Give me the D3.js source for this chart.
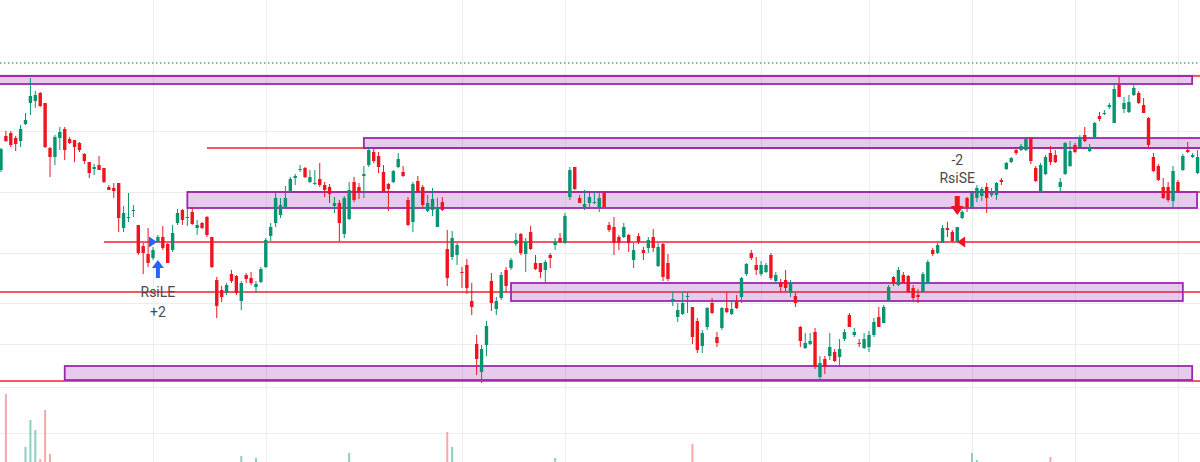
<!DOCTYPE html>
<html><head><meta charset="utf-8">
<script src="https://cdn.jsdelivr.net/npm/d3@7"></script>
<style>html,body{margin:0;padding:0;background:#fff;overflow:hidden}svg{display:block}</style>
</head><body><svg id="c" width="1200" height="462"></svg>
<script>
// ---- data ----
const opens=[330,364,367,362,359,376,397,399,407,397,352,343,362,371,361,360,357,346,338,331,335,332,313,312,317,272,282,289,275,254,246,242,258,263,256,250,277,290,282,288,272,277,283,263,220,210,207,226,224,199,225,222,213,218,233,264,277,285,293,308,322,330,332,318,316,321,315,313,294,297,266,281,318,313,324,335,348,344,328,316,318,333,328,300,278,319,313,289,290,273,298,251,243,245,228,235,199,156,128,155,219,191,202,230,232,256,266,246,268,237,237,230,245,255,262,257,303,333,302,292,297,297,292,307,275,273,263,263,265,240,264,250,252,263,234,256,237,199,183,186,203,193,179,154,173,197,163,172,192,186,198,203,226,247,235,226,228,245,219,218,220,207,204,173,152,156,168,123,141,144,148,143,161,185,165,157,152,153,165,183,177,200,223,215,225,224,212,205,208,217,250,247,257,272,268,259,282,302,293,302,304,313,305,305,320,331,338,350,350,350,362,332,308,326,347,345,313,326,334,355,353,365,349,362,384,386,393,377,415,391,388,405,407,395,382,343,334,313,313,299,318,330,350,343,327];
const highs=[352,369,369,364,375,387,422,409,408,397,353,365,373,373,363,360,358,347,338,336,344,332,315,317,317,294,307,295,275,257,272,253,265,274,257,275,291,291,292,293,280,278,284,263,223,214,217,230,225,219,227,228,219,233,262,277,307,302,314,323,326,335,333,330,330,337,318,316,303,300,304,318,323,317,334,352,352,348,335,317,330,347,334,303,318,324,315,305,312,302,303,270,269,257,233,241,217,165,155,179,227,203,228,233,242,267,267,262,274,245,237,240,247,262,267,287,333,333,305,310,307,308,307,309,278,283,265,277,266,257,267,253,263,271,257,257,246,208,197,208,208,193,182,170,193,202,168,193,208,200,205,223,237,250,243,239,237,247,228,221,230,220,207,174,167,167,172,144,144,167,151,161,171,187,172,161,167,169,182,193,195,215,224,233,228,225,215,211,228,240,252,257,275,278,270,273,290,303,308,315,313,317,312,318,322,338,343,353,356,363,363,334,337,345,354,350,322,358,359,357,365,373,356,378,388,390,397,416,423,403,405,417,409,402,383,347,336,322,318,334,320,346,358,347,350];
const lows=[328,358,353,349,353,375,385,392,393,352,323,335,350,340,356,338,348,336,322,325,330,317,310,302,268,268,278,283,245,226,233,240,257,250,237,248,275,275,274,275,265,271,263,232,182,198,205,217,205,190,217,215,207,217,232,259,273,282,293,307,315,328,322,317,315,313,303,297,287,259,262,280,298,301,302,333,337,327,307,289,317,332,323,274,268,307,293,288,284,273,289,214,240,235,212,206,185,125,117,144,189,185,200,208,230,254,245,228,250,230,222,217,232,250,257,256,300,310,297,290,293,296,288,293,268,245,250,262,248,232,256,240,247,248,233,219,219,194,178,185,187,156,147,147,170,186,153,170,187,185,191,197,224,240,225,224,227,220,217,208,208,203,193,153,151,155,131,121,126,140,138,134,159,173,163,153,151,148,163,173,177,198,214,214,217,207,200,197,207,217,244,246,257,263,258,257,281,288,293,298,299,287,303,300,315,330,337,345,349,349,336,318,307,325,335,337,307,325,333,347,352,358,348,361,379,385,391,377,403,387,387,404,396,387,353,328,319,301,298,293,308,329,347,342,326];
const closes=[351,359,355,356,371,380,404,405,394,353,343,363,368,350,357,353,350,339,327,333,330,318,310,309,282,287,283,290,247,247,237,250,263,252,237,267,287,280,283,276,275,272,265,233,194,203,215,219,207,217,221,217,216,231,260,273,302,295,302,321,324,331,323,323,317,315,310,306,297,277,302,310,300,308,326,350,339,333,308,311,329,341,324,275,316,308,295,297,301,292,290,222,262,255,227,212,193,141,151,174,197,199,225,214,240,260,247,258,251,231,228,238,242,258,258,284,330,311,297,296,303,298,302,293,270,257,257,273,257,250,258,247,260,252,253,223,221,201,190,197,204,163,150,167,192,187,157,192,188,191,192,222,236,242,230,235,235,222,225,213,212,217,197,159,157,159,133,137,133,153,139,151,168,173,168,156,161,165,178,173,193,213,217,230,217,208,202,203,226,238,246,255,272,270,259,273,288,293,307,312,311,302,307,317,318,337,342,347,354,361,339,319,335,343,338,338,318,357,349,348,363,359,353,377,381,387,395,411,403,397,398,412,397,387,355,329,320,302,300,329,309,344,348,345,343];
const volumes=[
0,680,0,0,0,150,420,320,30,520,   80,0,0,0,0,0,0,0,0,0,   0,0,0,0,0,0,0,0,0,0,
0,0,0,0,0,0,0,0,0,0,   0,0,0,0,0,0,0,0,0,60,   0,0,40,0,0,0,0,0,0,0,
0,0,0,0,0,0,0,0,0,0,   0,90,0,0,0,0,0,0,0,0,   0,0,0,0,0,0,0,0,0,0,
0,300,150,0,0,0,0,0,0,0,   0,0,0,0,0,0,0,0,0,0,   0,0,0,40,0,0,0,0,0,0,
0,0,0,0,0,0,0,0,0,0,   0,0,0,0,0,0,0,0,0,0,   0,180,0,0,0,0,0,0,0,0,
0,0,0,0,0,0,0,0,0,0,   0,0,0,0,0,0,0,0,0,0,   0,0,0,0,0,0,0,0,0,0,
0,0,0,0,0,0,0,0,0,0,   0,0,0,0,0,0,0,0,90,20,   0,0,0,0,0,0,0,0,0,0,
0,0,0,0,50,0,0,0,0,0,   0,0,0,0,0,0,0,0,0,0,   0,0,0,0,0,0,0,0,0,0,
0,0,0,0,0];
const priceGrid=[426,369,308,247,197,156,113,67];
const timeGrid=[31,54,94,115,155,177,198,219,240];
const dottedLevel=437;
// supply / demand zones
const zoneFrom=[-5,74,38,104,13];
const zoneTo=[242.9,260,243.9,241,242.9];
const zoneHigh=[424,362,308,217,134];
const zoneLow=[416,352,292,199,120];
// red horizontal levels
const levelPrice=[424,352,308,258,208,119];
const levelFrom=[-5,42,38,21,-5,-5];
// signals
const longIdx=32, longLevel=258, longLabel=["RsiLE","+2"];
const shortIdx=195, shortLevel=258, shortLabel=["-2","RsiSE"];

// ---- drawing ----
const W=1200,H=462;
const svg=d3.select("#c");
const x=d3.scaleLinear().domain([0,244]).range([0.98,0.98+244*4.904]);
const y=d3.scaleLinear().domain([100,440]).range([400,60]);
const yv=d3.scaleLinear().domain([0,800]).range([462,382]);
const up="#089470", dn="#f0141e";

const g=svg.append("g");
// grid
g.selectAll(".hg").data(priceGrid).join("line")
  .attr("x1",0).attr("x2",W).attr("y1",d=>Math.round(y(d))+0.5).attr("y2",d=>Math.round(y(d))+0.5)
  .attr("stroke","#ededed").attr("stroke-width",1);
g.selectAll(".vg").data(timeGrid).join("line")
  .attr("y1",0).attr("y2",H).attr("x1",d=>Math.round(x(d))+0.5).attr("x2",d=>Math.round(x(d))+0.5)
  .attr("stroke","#ededed").attr("stroke-width",1);
// dotted line
g.append("line").attr("x1",0).attr("x2",W).attr("y1",y(dottedLevel)).attr("y2",y(dottedLevel))
  .attr("stroke","#3fa88e").attr("stroke-width",1.4).attr("stroke-dasharray","1.4,2.6");

// volume
g.selectAll(".vol").data(volumes.map((v,i)=>({v,i})).filter(d=>d.v>0)).join("rect")
  .attr("x",d=>x(d.i)-1).attr("width",2)
  .attr("y",d=>yv(d.v)).attr("height",d=>yv(0)-yv(d.v))
  .attr("fill",d=>closes[d.i]>=opens[d.i]?"#8ccfc2":"#f8a7ab");

// red levels (under zones)
g.selectAll(".lvl").data(levelPrice.map((p,i)=>({p,f:levelFrom[i]}))).join("line")
  .attr("x1",d=>x(d.f)).attr("x2",W+5).attr("y1",d=>y(d.p)).attr("y2",d=>y(d.p))
  .attr("stroke","#f2202c").attr("stroke-width",1.3);

// zones
g.selectAll(".zone").data(zoneHigh.map((h,i)=>({h,l:zoneLow[i],f:zoneFrom[i],t:zoneTo[i]}))).join("rect")
  .attr("x",d=>x(d.f)).attr("width",d=>x(d.t)-x(d.f))
  .attr("y",d=>y(d.h)).attr("height",d=>y(d.l)-y(d.h))
  .attr("fill","rgba(156,39,176,0.24)").attr("stroke","#9c27b0").attr("stroke-width",1.8);

// candles
const candles=opens.map((o,i)=>({i,o,h:highs[i],l:lows[i],c:closes[i]}));
const cg=g.selectAll(".cd").data(candles).join("g");
cg.append("line").attr("x1",d=>x(d.i)).attr("x2",d=>x(d.i))
  .attr("y1",d=>y(d.h)).attr("y2",d=>y(d.l))
  .attr("stroke",d=>d.c>=d.o?up:dn).attr("stroke-width",1);
cg.append("rect").attr("x",d=>x(d.i)-1.7).attr("width",3.4)
  .attr("y",d=>y(Math.max(d.o,d.c))).attr("height",d=>Math.max(1,Math.abs(y(d.o)-y(d.c))))
  .attr("fill",d=>d.c>=d.o?up:dn);

// long signal
const blue="#2962ff";
const bx=x(longIdx), by=y(lows[longIdx])+17;
g.append("path").attr("fill",blue)
  .attr("d",`M${bx},${by} L${bx+6},${by+8} L${bx+2},${by+8} L${bx+2},${by+18} L${bx-2},${by+18} L${bx-2},${by+8} L${bx-6},${by+8} Z`);
const tx=x(longIdx-1)+4, ty=y(longLevel);
g.append("path").attr("fill",blue).attr("d",`M${tx},${ty} L${tx-8},${ty-5.5} L${tx-8},${ty+5.5} Z`);
g.append("text").attr("x",bx).attr("y",by+37).attr("text-anchor","middle")
  .attr("font-family","Roboto, 'Liberation Sans', sans-serif").attr("font-size",14).attr("fill","#4a4a4a").text(longLabel[0]);
g.append("text").attr("x",bx).attr("y",by+57).attr("text-anchor","middle")
  .attr("font-family","Roboto, 'Liberation Sans', sans-serif").attr("font-size",14).attr("fill","#4a4a4a").text(longLabel[1]);

// short signal
const rx=x(shortIdx), ry=y(highs[shortIdx])-12;
g.append("path").attr("fill","#f0141e")
  .attr("d",`M${rx},${ry} L${rx-6.5},${ry-9} L${rx-2.5},${ry-9} L${rx-2.5},${ry-19} L${rx+2.5},${ry-19} L${rx+2.5},${ry-9} L${rx+6.5},${ry-9} Z`);
const sx=x(shortIdx+1)-5, sy=y(shortLevel);
g.append("path").attr("fill","#f0141e").attr("d",`M${sx},${sy} L${sx+8},${sy-5.5} L${sx+8},${sy+5.5} Z`);
g.append("text").attr("x",rx).attr("y",ry-50).attr("text-anchor","middle")
  .attr("font-family","Roboto, 'Liberation Sans', sans-serif").attr("font-size",14).attr("fill","#4a4a4a").text(shortLabel[0]);
g.append("text").attr("x",rx).attr("y",ry-32).attr("text-anchor","middle")
  .attr("font-family","Roboto, 'Liberation Sans', sans-serif").attr("font-size",14).attr("fill","#4a4a4a").text(shortLabel[1]);
</script></body></html>
